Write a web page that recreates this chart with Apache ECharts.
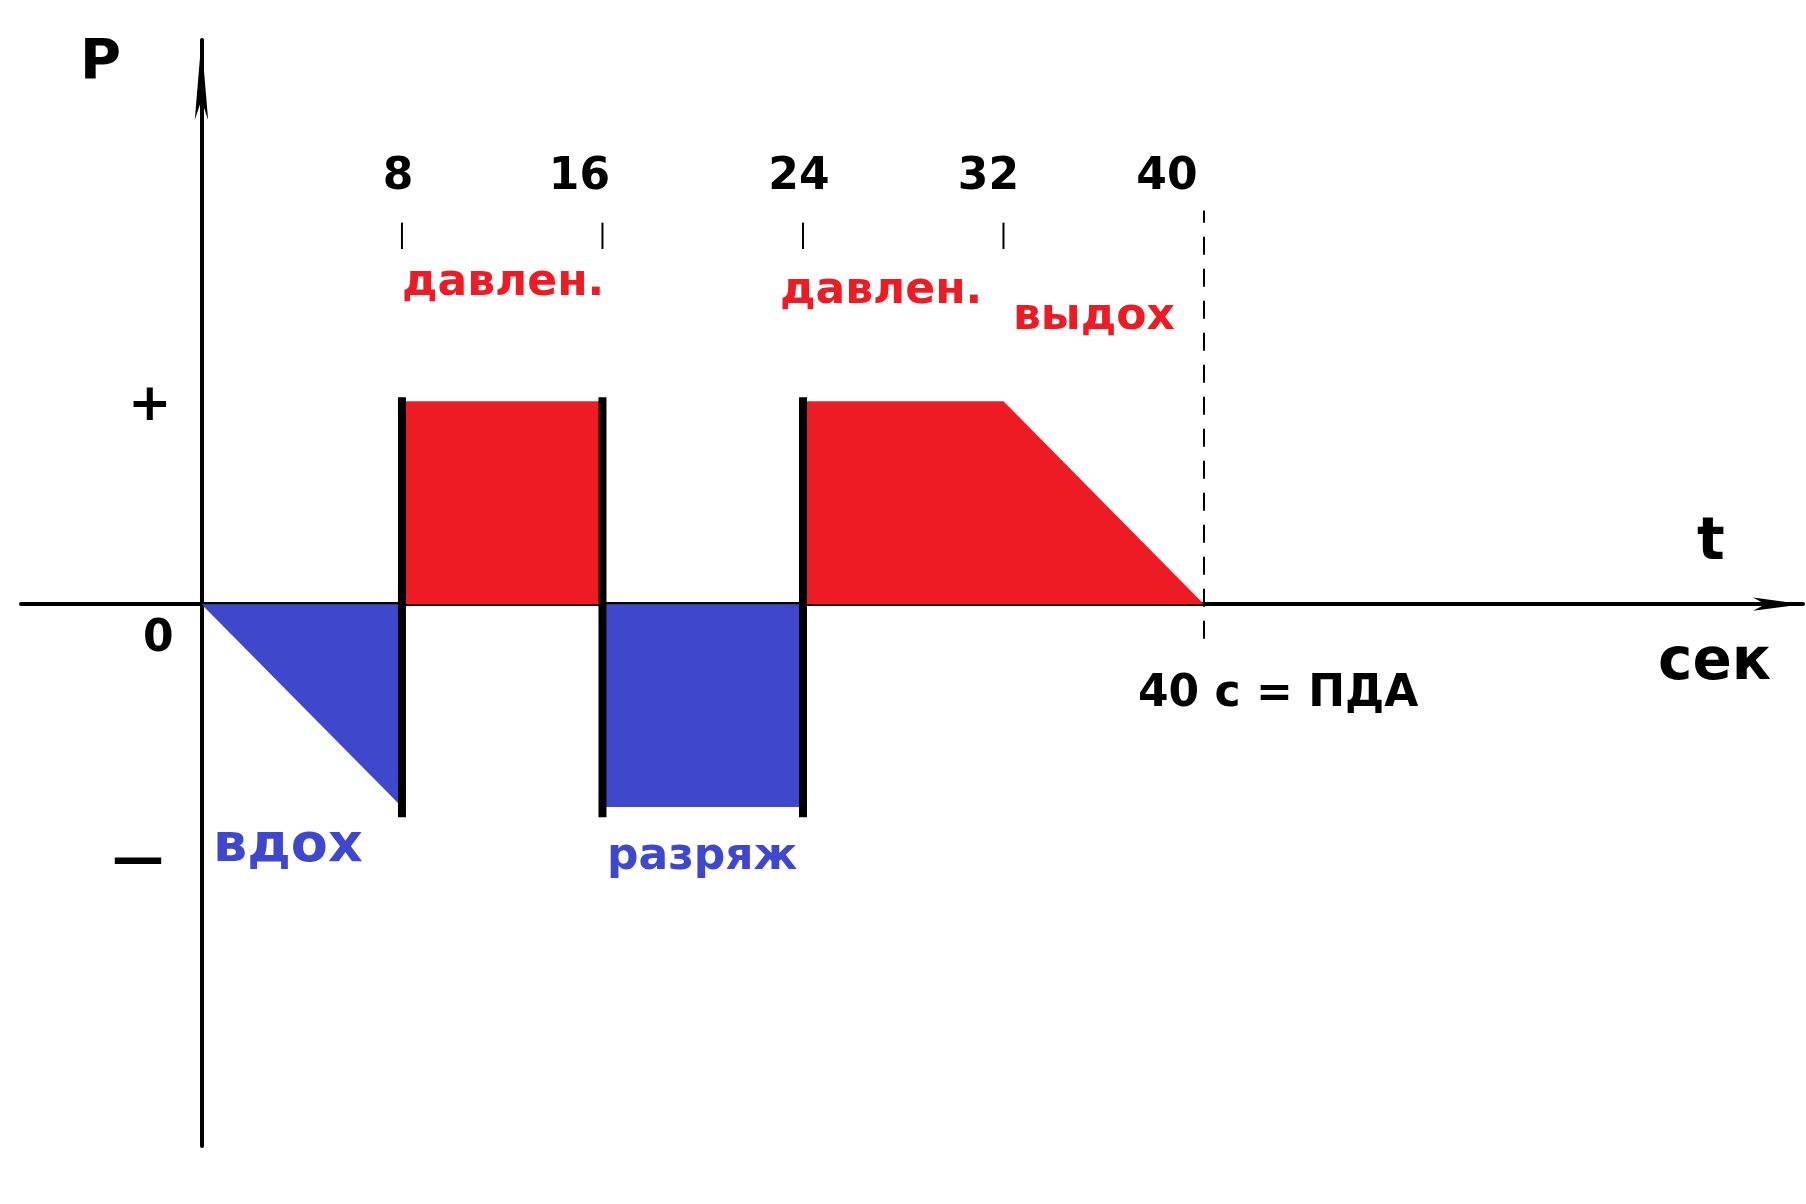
<!DOCTYPE html>
<html><head><meta charset="utf-8">
<script src="https://cdn.jsdelivr.net/npm/echarts@6/dist/echarts.min.js"></script>
<style>html,body{margin:0;background:#fff}#main{width:1806px;height:1204px}</style>
</head><body><div id="main"></div>
<script>
var tickValues = [8, 16, 24, 32, 40];
var inhale = [[0, 0], [8, -1]];
var pressure1 = [[8, 1], [16, 1]];
var vacuum = [[16, -1], [24, -1]];
var pressure2 = [[24, 1], [32, 1], [40, 0]];
var valves = [8, 16, 24];

var red = '#ed1c24', blue = '#3f48cc';
var myChart = echarts.init(document.getElementById('main'));

function area(d, c) {
    return {type: 'line', data: d, symbol: 'none', lineStyle: {width: 0},
        areaStyle: {color: c, opacity: 1, origin: 0}, z: 2};
}
function seg(x, y0, y1, w, dash) {
    return {type: 'line', data: [[x, y0], [x, y1]], symbol: 'none', z: 5,
        lineStyle: {color: '#000', width: w, type: dash ? [18, 14] : 'solid'}};
}

var series = [area(inhale, blue), area(pressure1, red), area(vacuum, blue), area(pressure2, red)];
valves.forEach(function (v) { series.push(seg(v, -1.05, 1.02, 8)); });
tickValues.forEach(function (v) {
    if (v === 40) series.push(seg(v, -0.17, 1.94, 2, true));
    else series.push(seg(v, 1.75, 1.88, 2));
});

var font = 'bold 44px "DejaVu Sans", sans-serif';
function txt(x, y, s, c, f) {
    return {type: 'text', left: x, top: y, style: {text: s, fill: c || '#000', font: f || font}};
}

myChart.setOption({
    animation: false,
    grid: {left: 21, top: 40, width: 1782, height: 1106},
    xAxis: {type: 'value', min: -7.2, max: 63.9, splitLine: {show: false},
        axisTick: {show: false}, axisLabel: {show: false},
        axisLine: {onZero: true, symbol: ['none', 'arrow'], symbolSize: [10, 50],
            lineStyle: {color: '#000', width: 4}}},
    yAxis: {type: 'value', min: -2.67, max: 2.78, splitLine: {show: false},
        axisTick: {show: false}, axisLabel: {show: false},
        axisLine: {onZero: true, symbol: ['none', 'arrow'], symbolSize: [10, 80],
            lineStyle: {color: '#000', width: 4}}},
    series: series
});

// label nudges (pixels), as hand-placed in the original
var labelShift = [-4, -23, -4, -15, -37];
var g = [];
tickValues.forEach(function (v, i) {
    var p = myChart.convertToPixel({gridIndex: 0}, [v, 2.1]);
    g.push({type: 'text', x: p[0] + labelShift[i], y: p[1], style: {text: String(v),
        font: font, fill: '#000', align: 'center', verticalAlign: 'middle'}});
});
g.push(txt(80, 35, 'P', '#000', 'bold 56px "DejaVu Sans"'));
g.push(txt(128, 380, '+', '#000', 'bold 52px "DejaVu Sans"'));
g.push(txt(143, 618, '0'));
g.push(txt(112, 835, '—', '#000', 'bold 52px "DejaVu Sans"'));
g.push(txt(1697, 515, 't', '#000', 'bold 58px "DejaVu Sans"'));
g.push(txt(1658, 635, 'сек', '#000', 'bold 58px "DejaVu Sans"'));
g.push(txt(1138, 673, '40 с = ПДА'));
g.push(txt(402, 262, 'давлен.', red));
g.push(txt(780, 270, 'давлен.', red));
g.push(txt(1013, 296, 'выдох', red));
g.push(txt(213, 820, 'вдох', blue, 'bold 54px "DejaVu Sans"'));
g.push(txt(607, 836, 'разряж', blue));
myChart.setOption({graphic: g});
</script>
</body></html>
